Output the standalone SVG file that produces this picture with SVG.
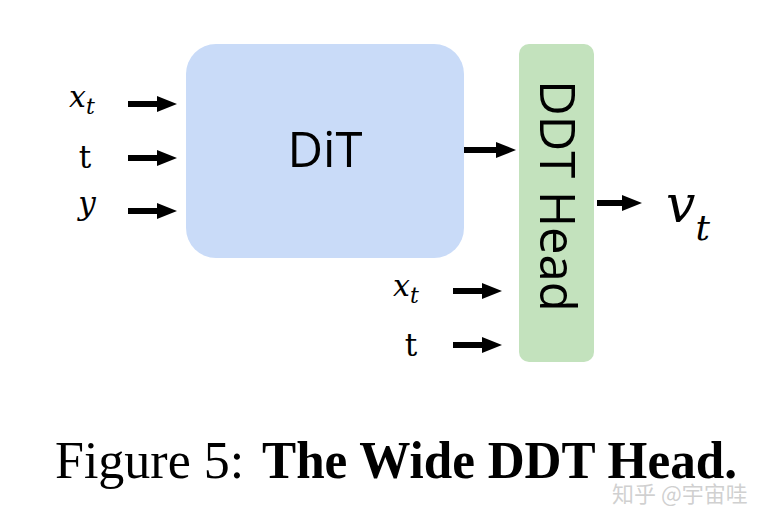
<svg xmlns="http://www.w3.org/2000/svg" width="774" height="516" viewBox="0 0 774 516">
<style>
.sans{font-family:"Open Sans","Noto Sans","DejaVu Sans",sans-serif;fill:#000}
.math{font-family:"DejaVu Serif","Liberation Serif",serif;font-style:italic;fill:#000}
.rm{font-family:"DejaVu Serif","Liberation Serif",serif;fill:#000}
.cap{font-family:"Liberation Serif","Times New Roman",serif;fill:#000}
.arrow{stroke:#000;stroke-width:6;fill:none;marker-end:url(#head)}
</style>
<defs>
<marker id="head" viewBox="0 0 20 16" refX="0" refY="8" markerWidth="20" markerHeight="16" markerUnits="userSpaceOnUse" orient="auto">
<path d="M0,0 L20,8 L0,16 z" fill="#000"/>
</marker>
</defs>
<rect width="774" height="516" fill="#fff"/>
<g id="dit">
<rect x="186" y="44" width="278" height="214" rx="30" ry="30" fill="#c9dbf8"/>
<text class="sans" x="325" y="167" font-size="49" text-anchor="middle">DiT</text>
</g>
<g id="ddt-head">
<rect x="519" y="44" width="75" height="318" rx="10" ry="10" fill="#c3e2bd"/>
<text class="sans" font-size="49" text-anchor="middle" transform="translate(540,196) rotate(90)">DDT Head</text>
</g>
<g id="in-xt"><text class="math" x="69" y="107" font-size="30">x<tspan font-size="22" dy="7">t</tspan></text></g>
<g id="in-t"><text class="rm" x="85" y="168" font-size="31" text-anchor="middle">t</text></g>
<g id="in-y"><text class="math" x="87" y="214" font-size="31" text-anchor="middle">y</text></g>
<g id="in-xt2"><text class="math" x="393" y="296" font-size="30">x<tspan font-size="22" dy="7">t</tspan></text></g>
<g id="in-t2"><text class="rm" x="411" y="356" font-size="31" text-anchor="middle">t</text></g>
<g id="out-vt"><text class="math" x="666" y="222" font-size="52">v<tspan font-size="36" dy="18">t</tspan></text></g>
<g id="connectors">
<line class="arrow" x1="128" y1="104" x2="157" y2="104"/>
<line class="arrow" x1="128" y1="158" x2="157" y2="158"/>
<line class="arrow" x1="128" y1="211" x2="157" y2="211"/>
<line class="arrow" x1="464" y1="150" x2="496" y2="150"/>
<line class="arrow" x1="597" y1="203" x2="622" y2="203"/>
<line class="arrow" x1="453" y1="291" x2="482" y2="291"/>
<line class="arrow" x1="453" y1="345" x2="482" y2="345"/>
</g>
<g id="caption">
<text class="cap" x="55" y="478" font-size="52">Figure 5:</text>
<text class="cap" x="262" y="478" font-size="52" font-weight="bold" textLength="475" lengthAdjust="spacingAndGlyphs">The Wide DDT Head.</text>
</g>
<text x="612" y="502" font-size="22" fill="#c8c8c8" fill-opacity="0.85" font-family="'Noto Sans CJK SC','Noto Sans',sans-serif">知乎 @宇宙哇</text>
</svg>
